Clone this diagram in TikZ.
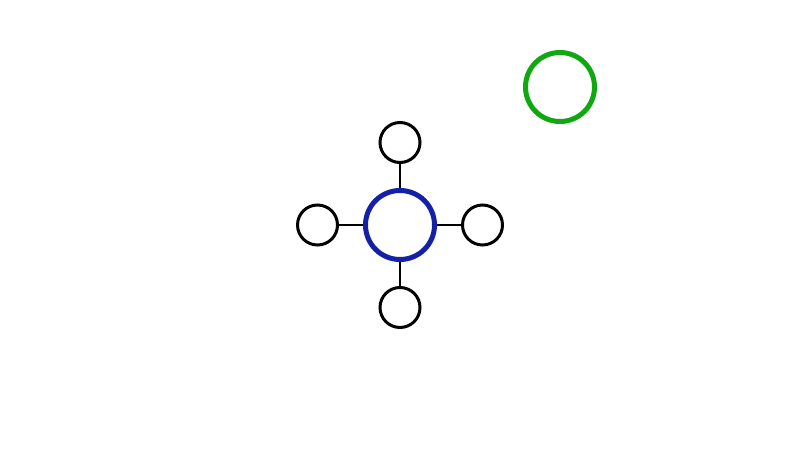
\documentclass[tikz,border=0pt]{standalone}
\usepackage{tikz}
\usetikzlibrary{positioning}
\definecolor{hubblue}{RGB}{20,32,168}
\definecolor{ringgreen}{RGB}{16,168,16}
\tikzstyle{hub} = [draw=hubblue, circle, line width=0.1cm, minimum size=1.38cm, inner sep=0pt]
\tikzstyle{leaf} = [draw=black, circle, line width=0.06cm, minimum size=0.8cm, inner sep=0pt]
\tikzstyle{ring} = [draw=ringgreen, circle, line width=0.1cm, minimum size=1.38cm, inner sep=0pt]
\tikzstyle{link} = [line width=0.05cm, black]

\begin{document}
\begin{tikzpicture}[node distance=1.65cm]
    \useasboundingbox (0,0) rectangle (16,9);
    % central node with its four satellites
    \node [hub] (hub) at (8,4.5) {};
    \node [leaf, above of=hub] (top) {};
    \node [leaf, below of=hub] (bottom) {};
    \node [leaf, left of=hub] (left) {};
    \node [leaf, right of=hub] (right) {};

    % the lone green circle
    \node [ring] (lone) at (11.2,7.26) {};

    \draw [link] (hub) -- (top);
    \draw [link] (hub) -- (bottom);
    \draw [link] (hub) -- (left);
    \draw [link] (hub) -- (right);
\end{tikzpicture}
\end{document}
